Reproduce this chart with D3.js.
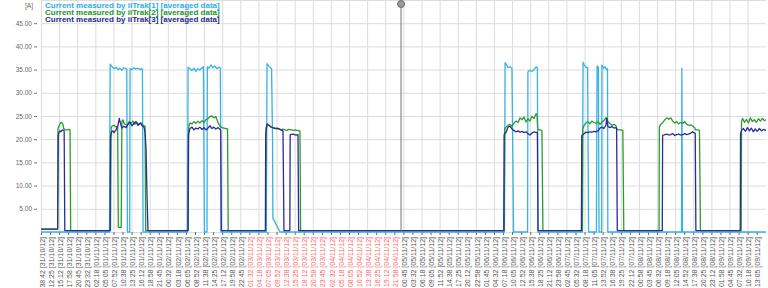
<!DOCTYPE html>
<html>
<head>
<meta charset="utf-8">
<script src="https://cdn.jsdelivr.net/npm/d3@7"></script>
<style>
	body { margin: 0; background: #fff; }
	svg { display: block; font-family: "Liberation Sans", Arial, sans-serif; }
	.legend { font-weight: bold; font-size: 8px; }
</style>
</head>
<body>
<svg id="chart" width="768" height="288"></svg>
<script>
"use strict";

// hours since 31/10/12 09:38:42, one label every 10000 s
const tickLabels = [
	"09:38:42 [31/10/12]", "12:25 [31/10/12]", "15:12 [31/10/12]", "17:58 [31/10/12]", "20:45 [31/10/12]",
	"23:32 [31/10/12]", "02:18 [01/11/12]", "05:05 [01/11/12]", "07:52 [01/11/12]", "10:38 [01/11/12]",
	"13:25 [01/11/12]", "16:12 [01/11/12]", "18:58 [01/11/12]", "21:45 [01/11/12]", "00:32 [02/11/12]",
	"03:18 [02/11/12]", "06:05 [02/11/12]", "08:52 [02/11/12]", "11:38 [02/11/12]", "14:25 [02/11/12]",
	"17:12 [02/11/12]", "19:58 [02/11/12]", "22:45 [02/11/12]", "01:32 [03/11/12]", "04:18 [03/11/12]",
	"07:05 [03/11/12]", "09:52 [03/11/12]", "12:38 [03/11/12]", "15:25 [03/11/12]", "18:12 [03/11/12]",
	"20:58 [03/11/12]", "23:45 [03/11/12]", "02:32 [04/11/12]", "05:18 [04/11/12]", "08:05 [04/11/12]",
	"10:52 [04/11/12]", "13:38 [04/11/12]", "16:25 [04/11/12]", "19:12 [04/11/12]", "21:58 [04/11/12]",
	"00:45 [05/11/12]", "03:32 [05/11/12]", "06:18 [05/11/12]", "09:05 [05/11/12]", "11:52 [05/11/12]",
	"14:38 [05/11/12]", "17:25 [05/11/12]", "20:12 [05/11/12]", "22:58 [05/11/12]", "01:45 [06/11/12]",
	"04:32 [06/11/12]", "07:18 [06/11/12]", "10:05 [06/11/12]", "12:52 [06/11/12]", "15:38 [06/11/12]",
	"18:25 [06/11/12]", "21:12 [06/11/12]", "23:58 [06/11/12]", "02:45 [07/11/12]", "05:32 [07/11/12]",
	"08:18 [07/11/12]", "11:05 [07/11/12]", "13:52 [07/11/12]", "16:38 [07/11/12]", "19:25 [07/11/12]",
	"22:12 [07/11/12]", "00:58 [08/11/12]", "03:45 [08/11/12]", "06:32 [08/11/12]", "09:18 [08/11/12]",
	"12:05 [08/11/12]", "14:52 [08/11/12]", "17:38 [08/11/12]", "20:25 [08/11/12]", "23:12 [08/11/12]",
	"01:58 [09/11/12]", "04:45 [09/11/12]", "07:32 [09/11/12]", "10:18 [09/11/12]", "13:05 [09/11/12]"
];
const tickStepHours = 10000 / 3600;
const weekendDates = ["03/11/12", "04/11/12"];
const yTicks = [5, 10, 15, 20, 25, 30, 35, 40, 45];
const seriesNames = [
	"Current measured by iiTrak[1] [averaged data]",
	"Current measured by iiTrak[2] [averaged data]",
	"Current measured by iiTrak[3] [averaged data]"
];
const cursorHours = 110.4;

// [hours, amps]
const series1 = [
	[0, 0], [21.0, 0], [21.2, 36.2], [21.8, 35.6], [22.4, 35.2], [23.0, 35.5], [23.6, 35.0], [24.2, 35.3], [24.8, 34.9],
	[25.4, 35.4], [26.1, 35.2], [26.3, 35.0], [26.5, 0], [27.2, 0], [27.3, 35.2], [27.9, 35.0], [28.5, 35.4], [29.1, 35.1],
	[29.7, 35.3], [30.4, 35.0], [31.0, 35.2], [31.1, 35.0], [31.3, 0],
	[44.9, 0], [45.1, 35.5], [45.7, 35.2], [46.3, 34.8], [46.9, 35.3], [47.5, 34.6], [48.1, 35.2], [48.7, 34.9], [49.4, 35.4],
	[49.8, 35.6], [50.1, 0], [50.9, 0], [51.0, 35.6], [51.5, 35.3], [52.1, 36.0], [52.7, 35.4], [53.3, 35.8], [53.9, 35.2],
	[54.6, 35.5], [55.0, 35.3], [55.2, 0],
	[69.1, 0], [69.3, 36.3], [69.8, 35.8], [70.2, 35.5], [70.7, 35.2], [71.0, 20], [71.1, 3], [73.3, 0],
	[142.1, 0], [142.3, 36.5], [142.8, 36.0], [143.2, 35.4], [143.8, 35.6], [144.4, 35.3], [144.9, 0], [149.2, 0],
	[149.3, 34.5], [149.9, 34.9], [150.5, 34.6], [151.2, 35.0], [151.8, 35.6], [152.2, 35.4], [152.4, 0],
	[166.0, 0], [166.2, 36.6], [166.6, 36.0], [167.1, 35.4], [167.6, 35.5], [167.9, 0], [170.3, 0], [170.5, 35.8],
	[170.9, 35.5], [171.1, 0], [171.9, 0], [172.0, 36.0], [172.5, 35.3], [172.9, 35.6], [173.4, 35.0], [173.7, 35.2], [173.8, 0],
	[196.4, 0], [196.5, 35.3], [196.7, 0], [222.3, 0]
];
const series2 = [
	[0, 0.6], [5.1, 0.6], [5.2, 22.2], [5.5, 22.8], [5.8, 23.3], [6.1, 23.6], [6.4, 23.6], [6.7, 23.2], [7.0, 22.3],
	[7.4, 22.0], [8.0, 22.0], [8.6, 22.1], [8.9, 22.0], [9.1, 0.3],
	[21.3, 0.3], [21.5, 22.5], [21.8, 22.8], [22.4, 23.0], [23.0, 22.6], [23.5, 22.8], [23.7, 1.0], [24.6, 1.0], [24.8, 23.8],
	[25.1, 24.2], [25.4, 23.5], [25.8, 23.2], [26.4, 23.0], [27.0, 23.8], [27.6, 23.4], [28.2, 23.9], [28.8, 23.2],
	[29.4, 23.6], [30.0, 23.1], [30.7, 23.5], [31.3, 23.0], [31.9, 22.8], [32.1, 0.3],
	[45.1, 0.3], [45.3, 22.8], [45.7, 23.5], [46.3, 23.3], [46.9, 23.8], [47.5, 23.4], [48.1, 23.9], [48.7, 23.5],
	[49.4, 24.0], [50.0, 23.6], [50.6, 24.2], [51.2, 24.4], [51.8, 24.9], [52.4, 25.0], [53.0, 24.6], [53.6, 24.9],
	[54.3, 23.5], [54.9, 22.8], [55.5, 22.5], [56.1, 22.4], [56.7, 22.3], [57.2, 22.2], [57.4, 0.3],
	[68.9, 0.3], [69.0, 22.5], [69.3, 23.2], [69.9, 23.0], [70.5, 22.7], [71.1, 22.5], [71.8, 22.4], [72.4, 22.2],
	[73.0, 22.3], [73.6, 22.0], [74.2, 22.2], [74.8, 22.0], [75.4, 21.9], [76.0, 22.1], [76.7, 22.0], [77.3, 21.9],
	[77.9, 22.0], [78.5, 21.9], [79.1, 21.8], [79.4, 21.8], [79.6, 0.3],
	[142.0, 0.3], [142.2, 22.2], [142.6, 22.6], [143.2, 23.0], [143.8, 23.2], [144.4, 22.8], [145.0, 23.4], [145.6, 23.9],
	[146.3, 23.6], [146.9, 24.6], [147.5, 24.2], [148.1, 24.8], [148.7, 23.7], [149.3, 24.4], [149.9, 23.9], [150.5, 24.9],
	[151.2, 24.5], [151.8, 25.5], [152.1, 25.2], [152.3, 22.2], [152.7, 22.0], [153.3, 22.0], [153.6, 21.8], [153.9, 0.3],
	[166.0, 0.3], [166.1, 22.3], [166.5, 22.9], [167.1, 23.5], [167.7, 23.8], [168.3, 23.3], [168.9, 23.9], [169.5, 23.6],
	[170.2, 23.4], [170.8, 23.8], [171.4, 23.2], [172.0, 23.7], [172.6, 24.0], [173.2, 24.6], [173.8, 23.8], [174.4, 23.4],
	[175.0, 23.0], [175.7, 23.2], [176.3, 22.9], [176.6, 22.1], [177.2, 22.0], [177.8, 22.0], [178.4, 21.9], [178.7, 0.3],
	[189.5, 0.3], [189.6, 22.6], [190.0, 23.2], [190.6, 23.5], [191.3, 24.2], [191.9, 24.6], [192.5, 24.3], [193.1, 24.6],
	[193.7, 23.9], [194.3, 23.5], [194.9, 23.8], [195.5, 23.3], [196.1, 23.6], [196.8, 23.4], [197.4, 23.8], [198.0, 23.2],
	[198.6, 23.0], [199.2, 23.1], [199.8, 22.9], [200.4, 22.5], [200.7, 22.0], [201.3, 22.0], [201.9, 21.9], [202.2, 0.3],
	[214.7, 0.3], [214.8, 23.8], [215.1, 24.5], [215.7, 23.6], [216.3, 24.3], [216.9, 23.5], [217.5, 24.6], [218.1, 23.8],
	[218.7, 24.2], [219.3, 23.6], [220.0, 24.4], [220.6, 23.9], [221.2, 24.5], [221.8, 24.0], [222.3, 24.2]
];
const series3 = [
	[0, 0.6], [5.1, 0.6], [5.3, 20.8], [5.5, 21.4], [5.8, 21.8], [6.1, 21.6], [6.4, 21.9], [6.8, 22.0], [7.1, 21.8], [7.3, 0.3],
	[21.2, 0.3], [21.3, 20.5], [21.6, 21.5], [22.0, 21.8], [22.4, 21.4], [23.0, 22.0], [23.6, 23.0], [24.0, 24.5], [24.3, 23.6],
	[24.8, 22.4], [25.4, 22.8], [26.1, 22.5], [26.7, 23.2], [27.3, 23.6], [27.9, 22.9], [28.5, 23.4], [29.1, 23.8], [29.7, 23.0],
	[30.4, 23.5], [31.0, 22.9], [31.6, 22.6], [31.9, 21.5], [32.2, 18], [32.5, 8], [32.8, 0.3],
	[45.1, 0.3], [45.2, 21.0], [45.7, 22.3], [46.3, 22.6], [46.9, 22.0], [47.5, 22.4], [48.1, 22.2], [48.7, 22.6], [49.4, 22.1],
	[50.0, 22.5], [50.6, 22.0], [51.2, 22.4], [51.8, 22.9], [52.4, 22.3], [53.0, 22.6], [53.6, 22.2], [54.3, 22.5], [54.9, 22.1],
	[55.1, 21.8], [55.3, 0.3],
	[68.8, 0.3], [68.9, 21.0], [69.3, 23.3], [69.9, 23.0], [70.5, 22.6], [71.1, 22.5], [71.8, 22.3], [72.4, 22.4], [73.0, 22.2],
	[73.6, 22.0], [74.2, 21.8], [74.5, 0.3], [76.3, 0.3], [76.4, 21.0], [77.3, 21.1], [78.2, 20.9], [78.8, 21.0], [79.0, 0.3],
	[141.9, 0.3], [142.0, 21.0], [142.6, 21.5], [143.2, 22.6], [143.8, 22.8], [144.4, 22.2], [145.0, 21.9], [145.6, 21.6],
	[146.3, 21.8], [146.9, 21.5], [147.5, 21.7], [148.1, 21.4], [148.7, 21.6], [149.3, 21.2], [149.9, 20.9], [150.5, 21.3],
	[151.2, 21.6], [151.8, 21.4], [152.2, 21.5], [152.4, 0.3],
	[165.7, 0.3], [165.8, 20.8], [166.5, 21.2], [167.1, 21.5], [167.7, 21.4], [168.3, 21.6], [168.9, 21.5], [169.5, 21.7],
	[170.2, 21.6], [170.8, 21.8], [171.4, 22.4], [172.0, 22.6], [172.6, 22.3], [173.2, 23.0], [173.5, 24.6], [173.8, 22.8],
	[174.4, 22.5], [175.0, 22.7], [175.7, 22.4], [176.3, 22.5], [176.5, 22.3], [176.7, 0.3],
	[190.5, 0.3], [190.6, 20.8], [191.3, 21.0], [191.9, 21.1], [192.5, 20.9], [193.1, 21.0], [193.7, 21.2], [194.3, 20.8],
	[194.9, 21.0], [195.5, 21.1], [196.1, 20.9], [196.8, 21.0], [197.4, 21.2], [198.0, 21.0], [198.6, 21.1], [199.2, 21.3],
	[199.8, 21.6], [200.1, 21.4], [200.6, 21.3], [200.8, 0.3],
	[214.4, 0.3], [214.5, 21.2], [214.8, 21.9], [215.4, 22.3], [216.0, 21.7], [216.6, 22.5], [217.2, 21.8], [217.8, 22.4],
	[218.4, 21.6], [219.0, 22.2], [219.6, 21.7], [220.3, 22.3], [220.9, 21.8], [221.5, 22.1], [222.3, 21.9]
];

const lineColors = ["#36b2e4", "#2e9a2e", "#2b2b9b"];
const textColors = ["#2aade6", "#21942a", "#27278f"];

const svg = d3.select("#chart");
const plotLeft = 41, plotRight = 766, plotTop = 0, plotBottom = 232;

const x = d3.scaleLinear().domain([0, 222.3]).range([plotLeft, plotRight]);
const y = d3.scaleLinear().domain([0, 50]).range([plotBottom, plotTop]);
const tickHours = tickLabels.map((d, i) => i * tickStepHours);

// grid
svg.append("g")
	.attr("transform", `translate(0,${plotBottom})`)
	.call(d3.axisBottom(x).tickValues(tickHours.filter((d, i) => i % 2 === 0)).tickSize(-(plotBottom - plotTop)).tickFormat(""))
	.call(g => g.select(".domain").remove())
	.call(g => g.selectAll("line").attr("stroke", "#dcdcdc"));
svg.append("g")
	.attr("transform", `translate(${plotLeft},0)`)
	.call(d3.axisLeft(y).tickValues(yTicks.concat([50])).tickSize(-(plotRight - plotLeft)).tickFormat(""))
	.call(g => g.select(".domain").attr("stroke", "#dcdcdc"))
	.call(g => g.selectAll("line").attr("stroke", "#dcdcdc"));

// y axis labels
svg.append("g")
	.attr("transform", `translate(37,0)`)
	.call(d3.axisLeft(y).tickValues(yTicks).tickSize(3).tickPadding(2).tickFormat(d3.format(".2f")))
	.call(g => g.select(".domain").remove())
	.call(g => g.selectAll("line").attr("stroke", "#777"))
	.call(g => g.selectAll("text").attr("fill", "#666").attr("font-size", "6.5px")
		.attr("font-family", "Liberation Sans, Arial, sans-serif"));
svg.append("text")
	.attr("x", 33).attr("y", 7.5)
	.attr("text-anchor", "end")
	.attr("font-size", "6.5px").attr("fill", "#666")
	.text("[A]");

// x axis ticks and rotated labels
const xAxis = svg.append("g").attr("transform", `translate(0,${plotBottom})`);
xAxis.call(d3.axisBottom(x).tickValues(tickHours).tickSize(3).tickFormat(""))
	.call(g => g.select(".domain").remove())
	.call(g => g.selectAll("line").attr("stroke", "#666"));
xAxis.selectAll("text.lbl")
	.data(tickLabels)
	.join("text")
	.attr("class", "lbl")
	.attr("transform", (d, i) => `translate(${x(tickHours[i]) + 1.2},5) rotate(-90)`)
	.attr("dy", "0.35em")
	.attr("text-anchor", "end")
	.attr("font-size", "7px")
	.attr("fill", d => weekendDates.some(w => d.includes(w)) ? "#f56b6b" : "#555")
	.text(d => d);

// series
svg.append("clipPath").attr("id", "plot")
	.append("rect").attr("x", plotLeft).attr("y", plotTop).attr("width", plotRight - plotLeft).attr("height", plotBottom - plotTop + 1);
const line = d3.line().x(d => x(d[0])).y(d => y(d[1]));
const plot = svg.append("g").attr("clip-path", "url(#plot)");
[series1, series2, series3].forEach((s, i) => {
	plot.append("path")
		.datum(s)
		.attr("fill", "none")
		.attr("stroke", lineColors[i])
		.attr("stroke-width", 1.3)
		.attr("stroke-linejoin", "round")
		.attr("d", line);
});

// cursor
svg.append("line")
	.attr("x1", x(cursorHours)).attr("x2", x(cursorHours))
	.attr("y1", 4).attr("y2", plotBottom)
	.attr("stroke", "#707070").attr("stroke-width", 1);
svg.append("circle")
	.attr("cx", x(cursorHours)).attr("cy", 4).attr("r", 3.5)
	.attr("fill", "#9a9a9a").attr("stroke", "#6a6a6a");

// legend
svg.append("g").attr("class", "legend")
	.selectAll("text")
	.data(seriesNames)
	.join("text")
	.attr("x", 45)
	.attr("y", (d, i) => 8 + i * 7.2)
	.attr("fill", (d, i) => textColors[i])
	.text(d => d);
</script>
</body>
</html>
